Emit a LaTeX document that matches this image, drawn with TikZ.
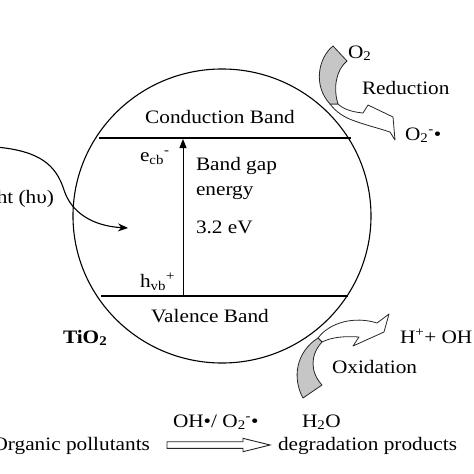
\documentclass[tikz,border=0pt]{standalone}
\usepackage{fontspec}
\setmainfont[FakeStretch=1.12]{Liberation Serif}
\usetikzlibrary{arrows.meta,shapes.geometric}
\begin{document}
\begin{tikzpicture}[x=1pt,y=-1pt,
  lbl/.style={inner sep=0pt, outer sep=0pt, font=\fontsize{19}{22}\selectfont},
  bandline/.style={line width=1.1pt},
  curlgray/.style={fill=gray!45, draw=black!85, line width=0.8pt, line join=round},
  curlwhite/.style={draw=black!85, line width=0.8pt, line join=round},
  hollow/.style={draw=black!85, fill=white, line width=0.9pt}]
\useasboundingbox (0,0) rectangle (474,474);

% particle
\node[ellipse, draw, line width=1.1pt, minimum width=298pt, minimum height=294pt, inner sep=0pt] (tio) at (222,216) {};

% band lines
\coordinate (cbL) at (99,138);
\coordinate (cbR) at (351,138);
\coordinate (vbL) at (101,296);
\coordinate (vbR) at (348,296);
\draw[bandline] (cbL) -- (cbR);
\draw[bandline] (vbL) -- (vbR);

% gap arrow
\coordinate (gapB) at (183,296);
\coordinate (gapT) at (183,139);
\draw[line width=1pt, -{Triangle[length=9pt,width=7pt]}] (gapB) -- (gapT);

% texts inside
\node[lbl, anchor=base] (cb) at (220,123) {Conduction Band};
\node[lbl, anchor=base] (vb) at (210,322) {Valence Band};
\node[lbl, anchor=base west] (ecb) at (140,161) {e\textsubscript{cb}\textsuperscript{-}};
\node[lbl, anchor=base west] (hvb) at (140,287) {h\textsubscript{vb}\textsuperscript{+}};
\node[lbl, anchor=base west] (bg1) at (196,170) {Band gap};
\node[lbl, anchor=base west] (bg2) at (196,195) {energy};
\node[lbl, anchor=base west] (bg3) at (196,233) {3.2 eV};
\node[lbl, anchor=base west, font=\fontsize{19}{22}\selectfont\bfseries] (tio2) at (63,343) {TiO\textsubscript{2}};

% light
\node[lbl, anchor=base east] (light) at (54,203) {Light (hυ)};
\coordinate (lightS) at (-4,147);
\coordinate (lightE) at (128,228);
\draw[line width=1.1pt, -{Stealth[length=10pt,width=8pt]}] (lightS) .. controls (40,151) and (56,165) .. (64,190) .. controls (71,212) and (92,226) .. (lightE);

% reduction curl arrow
\draw[curlwhite] (330,104) .. controls (336,112) and (344,117) .. (352,120)
  .. controls (365,125) and (378,128) .. (390,132) -- (395,140) -- (393,117) -- (368,105) -- (363,113)
  .. controls (352,112) and (343,109) .. (338,104) -- cycle;
\draw[curlgray] (333,46) .. controls (318,58) and (313,86) .. (330,104) -- (338,104)
  .. controls (333,88) and (336,70) .. (347,61) -- cycle;
\node[lbl, anchor=base west] (o2) at (348,58) {O\textsubscript{2}};
\node[lbl, anchor=base west] (red) at (362,94) {Reduction};
\node[lbl, anchor=base west] (o2r) at (405,140) {O\textsubscript{2}\textsuperscript{-}•};

% oxidation curl arrow
\draw[curlwhite] (318,338) .. controls (330,322) and (355,316) .. (377,323) -- (389,314) -- (384,332) -- (353,346) -- (359,337)
  .. controls (345,336) and (332,337) .. (322,342) -- cycle;
\draw[curlgray] (303,398) .. controls (292,378) and (296,352) .. (318,338) -- (322,342)
  .. controls (310,355) and (310,372) .. (322,385) -- cycle;
\node[lbl, anchor=base west] (hoh) at (400,343) {H\textsuperscript{+}+ OH};
\node[lbl, anchor=base west] (ox) at (332,373) {Oxidation};

% bottom reaction
\node[lbl, anchor=base east] (org) at (150,450) {Organic pollutants};
\node[lbl, anchor=base west] (deg) at (278,450) {degradation products};
\node[lbl, anchor=base west] (rad) at (173,427) {OH•/ O\textsubscript{2}\textsuperscript{-}•};
\node[lbl, anchor=base west] (h2o) at (302,427) {H\textsubscript{2}O};
\draw[hollow] (167,441.7) -- (243,441.7) -- (243,438.3) -- (270,445) -- (243,451.7) -- (243,448.3) -- (167,448.3) -- cycle;
\end{tikzpicture}
\end{document}
